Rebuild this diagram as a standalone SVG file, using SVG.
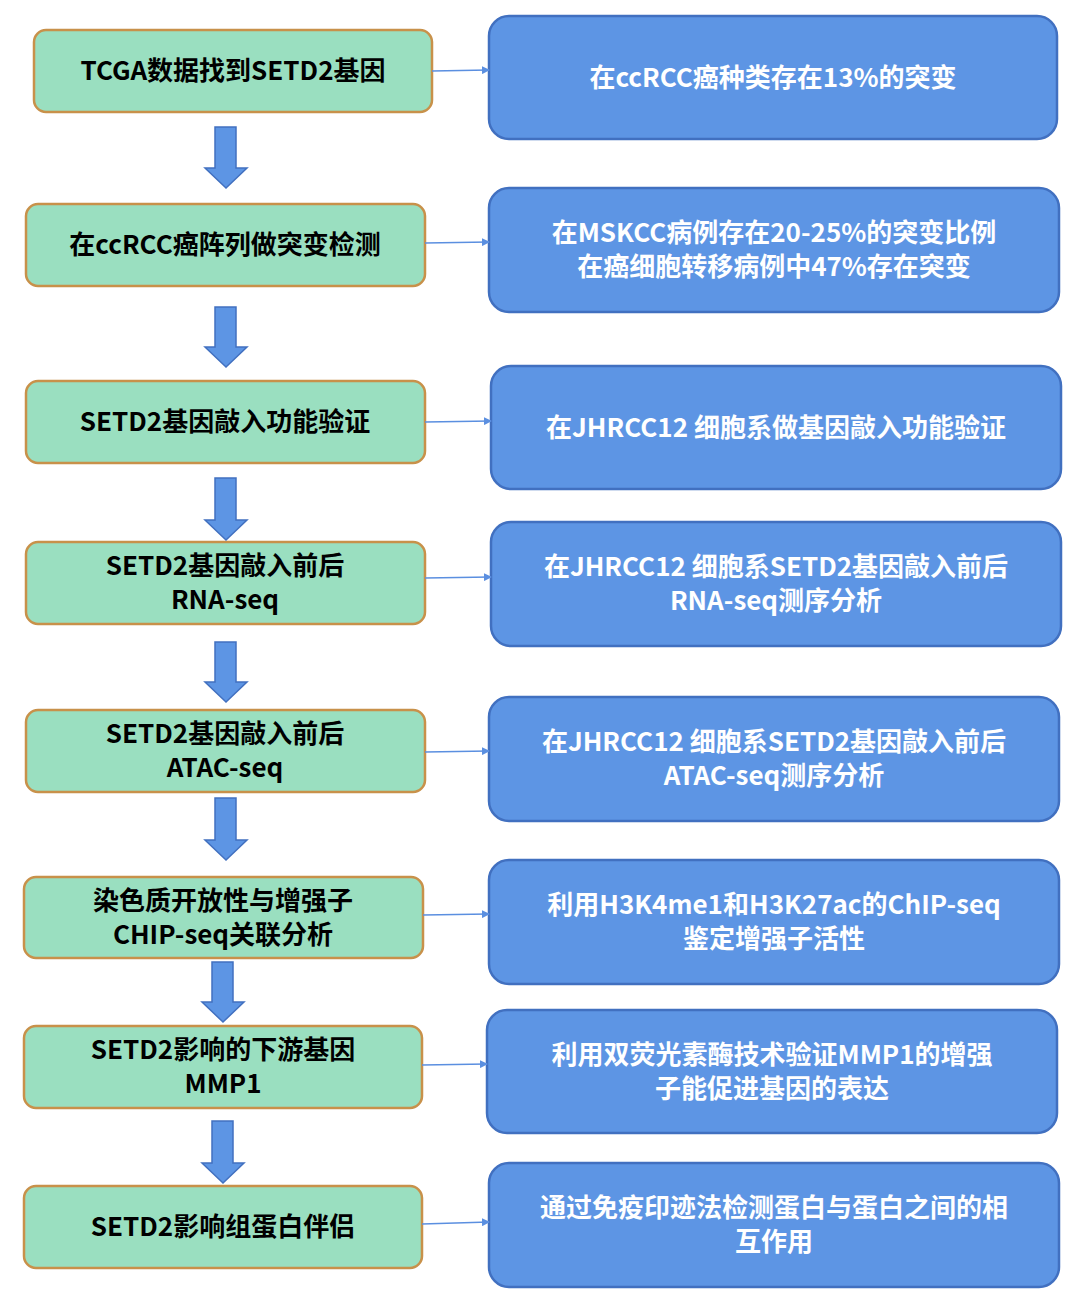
<svg xmlns="http://www.w3.org/2000/svg" width="1080" height="1295" viewBox="0 0 1080 1295">
<style>
.g{fill:#9adfc0;stroke:#c8914a;stroke-width:2.5}
.b{fill:#5d95e4;stroke:#4170c0;stroke-width:2.5}
text{font-family:"Noto Sans CJK SC","Noto Sans",sans-serif;font-weight:bold;font-size:26px;text-anchor:middle}
.gt{fill:#000}
.bt{fill:#fff}
.c{stroke:#5b8fe0;stroke-width:1.5;fill:none;marker-end:url(#a)}
.da{fill:#5d95e4;stroke:#4170c0;stroke-width:1.5}
</style>
<defs><marker id="a" markerWidth="8" markerHeight="8" refX="7" refY="4" orient="auto" markerUnits="userSpaceOnUse"><path d="M0,0L8,4L0,8z" fill="#5b8fe0"/></marker></defs>
<rect width="1080" height="1295" fill="#fff"/>
<g id="n1"><rect class="g" x="34" y="30" width="398" height="82" rx="12"/><text class="gt" x="233" y="80">TCGA数据找到SETD2基因</text></g>
<g id="n2"><rect class="g" x="26" y="204" width="399" height="82" rx="12"/><text class="gt" x="225" y="254">在ccRCC癌阵列做突变检测</text></g>
<g id="n3"><rect class="g" x="26" y="381" width="399" height="82" rx="12"/><text class="gt" x="225" y="431">SETD2基因敲入功能验证</text></g>
<g id="n4"><rect class="g" x="26" y="542" width="399" height="82" rx="12"/><text class="gt" x="225" y="575">SETD2基因敲入前后</text><text class="gt" x="225" y="609">RNA-seq</text></g>
<g id="n5"><rect class="g" x="26" y="710" width="399" height="82" rx="12"/><text class="gt" x="225" y="743">SETD2基因敲入前后</text><text class="gt" x="225" y="777">ATAC-seq</text></g>
<g id="n6"><rect class="g" x="24" y="877" width="399" height="81" rx="12"/><text class="gt" x="223" y="910">染色质开放性与增强子</text><text class="gt" x="223" y="944">CHIP-seq关联分析</text></g>
<g id="n7"><rect class="g" x="24" y="1026" width="398" height="82" rx="12"/><text class="gt" x="223" y="1059">SETD2影响的下游基因</text><text class="gt" x="223" y="1093">MMP1</text></g>
<g id="n8"><rect class="g" x="24" y="1186" width="398" height="82" rx="12"/><text class="gt" x="223" y="1236">SETD2影响组蛋白伴侣</text></g>
<g id="r1"><rect class="b" x="489" y="16" width="568" height="123" rx="20"/><text class="bt" x="773" y="87">在ccRCC癌种类存在13%的突变</text></g>
<g id="r2"><rect class="b" x="489" y="188" width="570" height="124" rx="20"/><text class="bt" x="774" y="242">在MSKCC病例存在20-25%的突变比例</text><text class="bt" x="774" y="276">在癌细胞转移病例中47%存在突变</text></g>
<g id="r3"><rect class="b" x="491" y="366" width="570" height="123" rx="20"/><text class="bt" x="776" y="437">在JHRCC12 细胞系做基因敲入功能验证</text></g>
<g id="r4"><rect class="b" x="491" y="522" width="570" height="124" rx="20"/><text class="bt" x="776" y="576">在JHRCC12 细胞系SETD2基因敲入前后</text><text class="bt" x="776" y="610">RNA-seq测序分析</text></g>
<g id="r5"><rect class="b" x="489" y="697" width="570" height="124" rx="20"/><text class="bt" x="774" y="751">在JHRCC12 细胞系SETD2基因敲入前后</text><text class="bt" x="774" y="785">ATAC-seq测序分析</text></g>
<g id="r6"><rect class="b" x="489" y="860" width="570" height="124" rx="20"/><text class="bt" x="774" y="914">利用H3K4me1和H3K27ac的ChIP-seq</text><text class="bt" x="774" y="948">鉴定增强子活性</text></g>
<g id="r7"><rect class="b" x="487" y="1010" width="570" height="123" rx="20"/><text class="bt" x="772" y="1064">利用双荧光素酶技术验证MMP1的增强</text><text class="bt" x="772" y="1098">子能促进基因的表达</text></g>
<g id="r8"><rect class="b" x="489" y="1163" width="570" height="124" rx="20"/><text class="bt" x="774" y="1217">通过免疫印迹法检测蛋白与蛋白之间的相</text><text class="bt" x="774" y="1251">互作用</text></g>
<g id="connectors">
<path class="c" d="M432,71L489,70"/>
<path class="c" d="M425,243L489,242"/>
<path class="c" d="M425,422L491,421"/>
<path class="c" d="M425,578L491,577"/>
<path class="c" d="M425,752L489,751"/>
<path class="c" d="M423,915L489,914"/>
<path class="c" d="M422,1065L487,1064"/>
<path class="c" d="M422,1224L489,1222"/>
<path class="da" d="M215,127h21v41h11l-21,20l-21,-20h10z"/>
<path class="da" d="M215,307h21v40h11l-21,20l-21,-20h10z"/>
<path class="da" d="M215,478h21v42h11l-21,20l-21,-20h10z"/>
<path class="da" d="M215,642h21v40h11l-21,20l-21,-20h10z"/>
<path class="da" d="M215,798h21v42h11l-21,20l-21,-20h10z"/>
<path class="da" d="M212,962h21v40h11l-21,20l-21,-20h10z"/>
<path class="da" d="M212,1121h21v42h11l-21,20l-21,-20h10z"/>
</g>
</svg>
